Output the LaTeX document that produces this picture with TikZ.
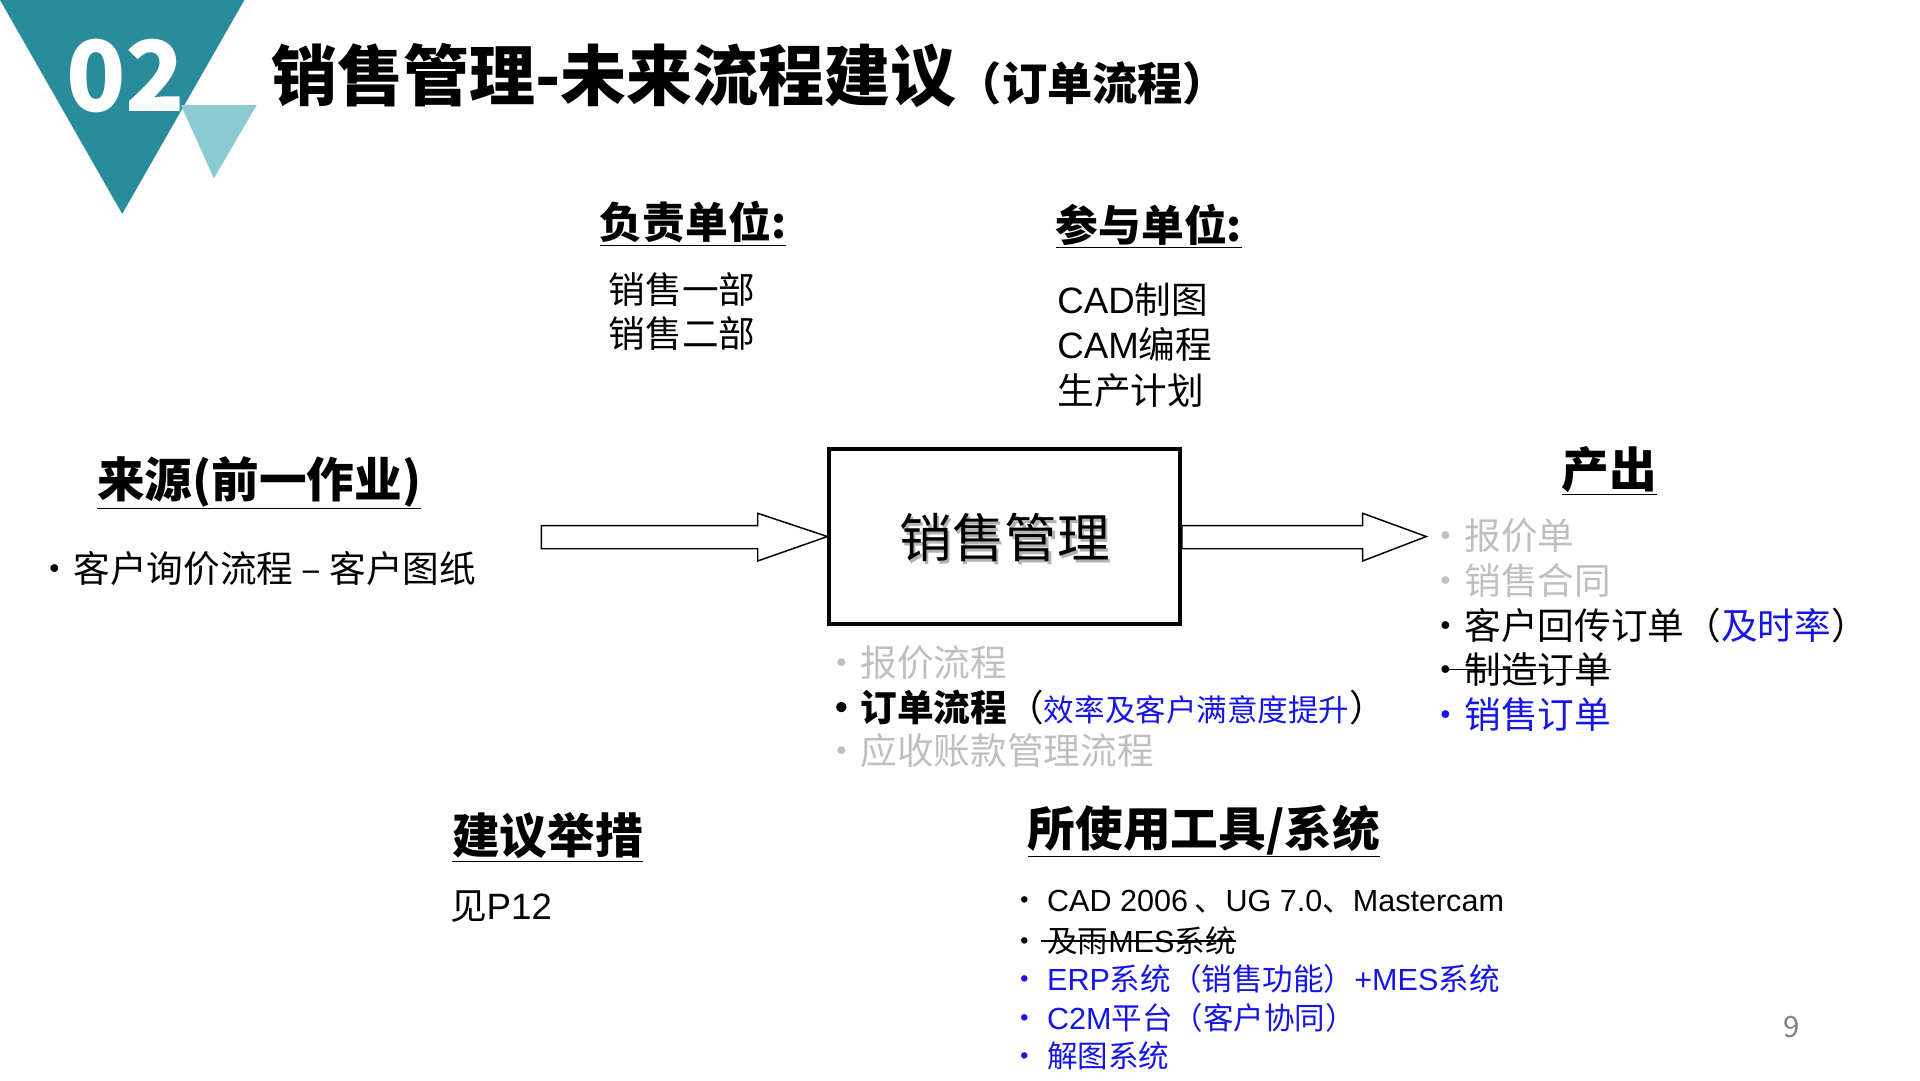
\documentclass[tikz,border=0pt]{standalone}
\usepackage{fontspec}
\setmainfont{Noto Sans CJK SC}
\newfontfamily\lat{Liberation Sans}
\definecolor{teal1}{HTML}{2A8C9A}
\definecolor{teal2}{HTML}{8CCBD3}
\definecolor{bl}{HTML}{1515E6}
\definecolor{gr}{HTML}{BFBFBF}
\begin{document}
\begin{tikzpicture}[x=1pt,y=-1pt,
  t/.style={inner sep=0pt,anchor=west},
  body/.style={t,font=\fontsize{30}{36}\selectfont},
  tool/.style={t,font=\fontsize{25}{30}\selectfont},
  head/.style={inner sep=0pt,font=\bfseries\fontsize{39}{44}\selectfont},
  arr/.style={draw=black,line width=1.2pt,fill=white}]
\useasboundingbox (0,0) rectangle (1571,884);
\fill[teal1] (0,0) -- (200,0) -- (100,175) -- cycle;
\fill[teal2] (148,86) -- (210,86) -- (175,146) -- cycle;
\node[inner sep=0pt,text=white,font=\bfseries\itshape\fontsize{80}{90}\selectfont] (num) at (103,62) {02};
\node[t,font=\bfseries\fontsize{54}{60}\selectfont] (title) at (222,62) {销售管理-未来流程建议\fontsize{37}{40}\selectfont（订单流程）};
\node[head,font=\bfseries\fontsize{35}{40}\selectfont] (fz) at (567,183) {\underline{负责单位:}};
\node[body] (s1) at (498,237) {销售一部};
\node[body] (s2) at (498,273) {销售二部};
\node[head,font=\bfseries\fontsize{35}{40}\selectfont] (cy) at (940,185) {\underline{参与单位:}};
\node[body] (c1) at (865,245) {{\lat CAD}制图};
\node[body] (c2) at (865,282) {{\lat CAM}编程};
\node[body] (c3) at (865,320) {生产计划};
\node[head] (ly) at (212,395) {\underline{来源(前一作业)}};
\node[body] (l1) at (30,465) {•客户询价流程 – 客户图纸};
\node[draw,line width=3pt,minimum width=287pt,minimum height=143pt,inner sep=0pt] (box) at (822,439) {};
\node[inner sep=0pt,font=\fontsize{43}{50}\selectfont,text=gray!60] at (824,442) {销售管理};
\node[inner sep=0pt,font=\fontsize{43}{50}\selectfont] (bt) at (822,440) {销售管理};
\coordinate (a1) at (443,439);
\coordinate (a2) at (1167,439);
\draw[arr] (a1) ++(0,-9) -- ++(177,0) -- ++(0,-10) -- (box.west) -- ++(-57,20) -- ++(0,-10) -- ++(-177,0) -- cycle;
\draw[arr] (box.east) ++(0,-9) -- ++(148,0) -- ++(0,-10) -- (a2) -- ++(-52,20) -- ++(0,-10) -- ++(-148,0) -- cycle;
\node[head] (cc) at (1317,385) {\underline{产出}};
\node[body,text=gr] (o1) at (1168,438) {•报价单};
\node[body,text=gr] (o2) at (1168,475) {•销售合同};
\node[body] (o3) at (1168,512) {•客户回传订单（\textcolor{bl}{及时率}）};
\node[body] (o4) at (1168,548) {•制造订单};
\draw[line width=1.2pt] ([xshift=12pt]o4.west) -- (o4.east);
\node[body,text=bl] (o5) at (1168,585) {•销售订单};
\node[body,text=gr] (p1) at (674,542) {•报价流程};
\node[body] (p2) at (674,579) {\textbf{•订单流程}（\textcolor{bl}{\fontsize{25}{30}\selectfont 效率及客户满意度提升}）};
\node[body,text=gr] (p3) at (674,614) {•应收账款管理流程};
\node[head] (jy) at (448,685) {\underline{建议举措}};
\node[body] (jp) at (368,742) {见{\lat P12}};
\node[head] (gj) at (985,680) {\underline{所使用工具/系统}};
\node[tool] (g1) at (826,738) {• {\lat CAD 2006} 、{\lat UG 7.0}、{\lat Mastercam}};
\node[tool] (g2) at (826,770) {• 及雨{\lat MES}系统};
\draw[line width=1pt] ([xshift=26pt]g2.west) -- (g2.east);
\node[tool,text=bl] (g3) at (826,801) {• {\lat ERP}系统（销售功能）{\lat +MES}系统};
\node[tool,text=bl] (g4) at (826,833) {• {\lat C2M}平台（客户协同）};
\node[tool,text=bl] (g5) at (826,864) {• 解图系统};
\node[inner sep=0pt,text=gray,font=\fontsize{24}{28}\selectfont] (pg) at (1466,840) {9};
\end{tikzpicture}
\end{document}
